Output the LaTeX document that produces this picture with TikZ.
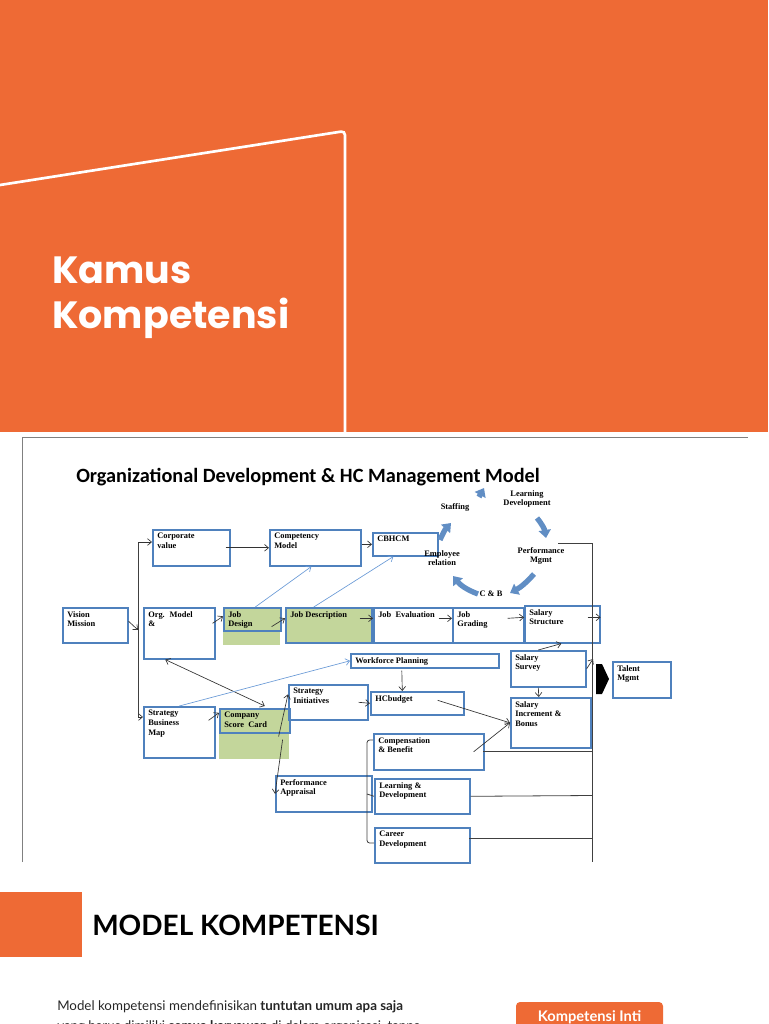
\documentclass[tikz,border=0pt]{standalone}
\usepackage{fontspec}
\setmainfont{Liberation Serif}
\newfontfamily\mypop{Poppins}
\newfontfamily\mycal{Carlito}
\newfontfamily\mylat{Lato}
\usetikzlibrary{arrows.meta,calc}
\definecolor{org}{HTML}{EE6A35}
\definecolor{bblue}{HTML}{4F81BD}
\definecolor{lblue}{HTML}{6A9AD6}
\definecolor{grn}{HTML}{C3D69B}
\tikzset{
 bx/.style={draw=bblue,line width=1.2pt,anchor=north west,inner sep=0pt},
 tx/.style={anchor=north west,font=\bfseries\fontsize{6.3}{7.2}\selectfont,align=left,inner sep=0pt},
 ar/.style={-{Straight Barb[length=3pt,width=5pt]},line width=0.5pt,black!80},
 bl/.style={-{Straight Barb[length=3pt,width=5pt]},line width=0.5pt,lblue},
 cyc/.style={line width=4pt,bblue!90,-{Triangle[length=6pt,width=9pt]}},
 ln/.style={line width=0.6pt,black!75}
}
\newcommand\mybox[6]{\node[bx,minimum width={(#3-#1)*0.75pt},minimum height={(#4-#2)*0.75pt}] (#5) at (#1,#2) {};
 \node[tx] (#5t) at ($(#5.north west)+(5,4)$) {#6};}
\begin{document}
\begin{tikzpicture}[x=0.75pt,y=-0.75pt]
\useasboundingbox (0,0) rectangle (768,1024);
\fill[org] (0,0) rectangle (768,432);
\draw[white,line width=2pt,rounded corners=3pt] (0,185) -- (345,131) -- (345,432);
\node[anchor=base west,text=white,font=\mypop\bfseries\fontsize{28.5}{34}\selectfont,align=left,inner sep=0pt] (kt) at (52,283) {Kamus};
\node[anchor=base west,text=white,font=\mypop\bfseries\fontsize{28.5}{34}\selectfont,inner sep=0pt] (kt2) at (52,328) {Kompetensi};
% diagram frame
\draw[black!50,line width=0.6pt] (22,862) -- (22,437) -- (748,437);
\node[anchor=base west,font=\mycal\bfseries\fontsize{15.2}{18}\selectfont,inner sep=0pt] (ttl) at (76,482) {Organizational Development \& HC Management Model};
% green fills
\fill[grn] (223,607) rectangle (280,645);
\fill[grn] (285,607) rectangle (371,642);
\fill[grn] (219,708) rectangle (289,759);
% boxes
\mybox{62}{607}{127}{642}{vm}{Vision\\Mission}
\mybox{143}{607}{214}{658}{org}{Org.~ Model\\\&}
\mybox{152}{529}{229}{565}{cv}{Corporate\\value}
\mybox{269}{529}{360}{565}{cm}{Competency\\Model}
\mybox{372}{532}{437}{555}{cb}{CBHCM}
\mybox{223}{607}{280}{630}{jd}{Job\\Design}
\mybox{285}{607}{371}{642}{jde}{Job Description}
\mybox{373}{607}{452}{642}{je}{Job~ Evaluation}
\mybox{452}{607}{523}{642}{jg}{Job\\Grading}
\mybox{524}{605}{599}{642}{ss}{Salary\\Structure}
\mybox{350}{653}{498}{667}{wp}{Workforce Planning}
\mybox{510}{650}{585}{686}{sv}{Salary\\Survey}
\mybox{612}{661}{670}{697}{tm}{Talent\\Mgmt}
\mybox{143}{706}{214}{757}{sbm}{Strategy\\Business\\Map}
\mybox{219}{708}{289}{732}{csc}{Company\\Score~ Card}
\mybox{288}{684}{367}{719}{si}{Strategy\\Initiatives}
\mybox{370}{691}{463}{714}{hc}{HCbudget}
\mybox{510}{697}{590}{747}{sib}{Salary\\Increment \&\\Bonus}
\mybox{373}{733}{483}{769}{cmp}{Compensation\\\& Benefit}
\mybox{275}{775}{371}{811}{pa}{Performance\\Appraisal}
\mybox{374}{778}{469}{813}{ld}{Learning \&\\Development}
\mybox{374}{827}{469}{862}{cd}{Career\\Development}
% big black arrow
\fill[black] (596,664) -- (602,664) -- (609,679) -- (602,694) -- (596,694) -- cycle;
% cycle labels
\node[tx,anchor=center,align=center] (stf) at (455,507) {Staffing};
\node[tx,anchor=center,align=center] (lrn) at (527,499) {Learning\\Development};
\node[tx,anchor=center,align=center] (pm) at (541,556) {Performance\\Mgmt};
\node[tx,anchor=center,align=center] (cnb) at (491,594) {C \& B};
\node[tx,anchor=center,align=center] (er) at (442,558) {Employee\\relation};
\draw[cyc] (440,540) to[bend left=10] (451,523);
\draw[cyc] (479,497) -- (484,488);
\draw[cyc] (537,518) to[bend left=15] (546,538);
\draw[cyc] (534,574) to[bend left=10] (510,593);
\draw[cyc] (478,594) to[bend left=15] (453,576);
% connectors
\coordinate (vl1) at (138,542); \coordinate (vl2) at (138,717);
\draw[ln] (vl1) -- (vl2);
\draw[ar] (vl1) -- (cv.west|-vl1);
\draw[ar] (vl2) -- (sbm.west|-vl2);
\draw[ar] ($(vm.east)+(0,-4)$) -- (138,630);
\draw[ar] ($(cv.east)+(-5,0)$) -- (cm.west);
\draw[ar] (cm.east|-cb.west) -- (cb.west);
\draw[ar] ($(org.east)+(-3,-10)$) -- ($(jd.west)+(0,-3)$);
\draw[ar] ($(jd.south east)+(-10,-5)$) -- ($(jde.west)+(0,-7)$);
\draw[ar] ($(jde.east)+(-13,-7)$) -- ($(je.west)+(0,-7)$);
\draw[ar] ($(je.east)+(-15,-7)$) -- ($(jg.west)+(0,-7)$);
\draw[ar] ($(jg.east)+(-17,-7)$) -- ($(ss.west)+(0,-7)$);
\draw[ar] ($(ss.east)+(-13,-7)$) -- ($(ss.east)+(0,-7)$);
\draw[bl] ($(jd.north)+(3,0)$) -- ($(cm.south)+(-4,0)$);
\draw[bl] ($(jde.north)+(-15,0)$) -- ($(cb.south)+(-12,0)$);
\draw[{Straight Barb[length=3pt,width=5pt]}-{Straight Barb[length=3pt,width=5pt]},line width=0.5pt,black!80] ($(org.south)+(-14,0)$) -- ($(csc.north)+(10,-2)$);
\draw[bl] (sbm.north) -- (wp.west);
\draw[ar] ($(sbm.east)+(-7,-12)$) -- ($(csc.west)+(0,-8)$);
\draw[ar] ($(csc.south east)+(-12,3)$) -- ($(si.west)+(0,-8)$);
\draw[ar] ($(csc.south east)+(-8,6)$) -- (pa.west);
\draw[ar] ($(si.east)+(-10,0)$) -- (hc.west);
\draw[ar] ($(wp.south)+(-23,2)$) -- ($(hc.north)+(-15,0)$);
\draw[ar] ($(hc.east)+(-27,-3)$) -- (sib.west);
\draw[ar] ($(cmp.east)+(-11,0)$) -- (sib.west);
\draw[ar] ($(sv.north)+(-10,0)$) -- ($(ss.south)+(-1,0)$);
\draw[ar] ($(sv.south)+(-10,0)$) -- ($(sib.north)+(-12,0)$);
\draw[ar] (sv.east) -- (593,659);
\draw[ln] (558,543) -- (592,543) -- (592,862);
\draw[ln] (483,751) -- (592,751);
\draw[ln] (ld.east) -- (592,795.5);
\draw[ln] (469,838) -- (592,838);
\draw[ln,rounded corners=2pt] (373,740) -- (367,740) -- (367,843) -- (374,843);
\draw[ln] (367,794) -- (ld.west);
% bottom
\fill[org] (0,892) rectangle (82,957);
\node[anchor=base west,font=\mylat\bfseries\fontsize{21}{25}\selectfont,inner sep=0pt] (mk) at (92,935) {MODEL KOMPETENSI};
\node[anchor=base west,font=\mylat\fontsize{10}{12}\selectfont,text=black!85,inner sep=0pt] (p1) at (57,1010) {Model kompetensi mendefinisikan \textbf{tuntutan umum apa saja}};
\node[anchor=base west,font=\mylat\fontsize{10}{12}\selectfont,text=black!85,inner sep=0pt] (p2) at (57,1030) {yang harus dimiliki \textbf{semua karyawan} di dalam organisasi, tanpa};
\fill[org,rounded corners=3pt] (516,1002) rectangle (663,1040);
\node[anchor=base,text=white,font=\mylat\bfseries\fontsize{11}{13}\selectfont,inner sep=0pt] (ki) at (589.5,1021) {Kompetensi Inti};
\end{tikzpicture}
\end{document}
